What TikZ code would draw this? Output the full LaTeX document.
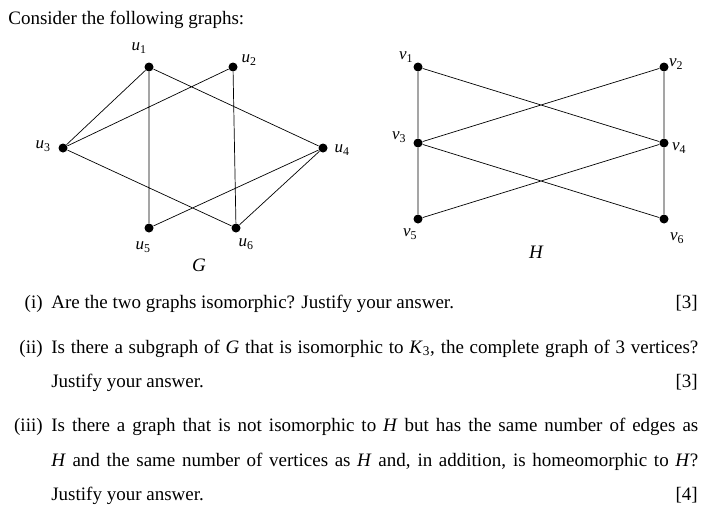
\documentclass[tikz,border=0pt]{standalone}
\usepackage{fontspec}
\setmainfont{Liberation Serif}
\newcommand{\sbs}[1]{\textsubscript{\upshape #1}}
\begin{document}
\begin{tikzpicture}[x=1pt,y=-1pt,line width=0.7pt,
  vtx/.style={circle,fill=black,inner sep=0pt,minimum size=9pt},
  lab/.style={font=\fontsize{17}{17}\selectfont\itshape,inner sep=0pt},
  txt/.style={font=\fontsize{19}{22}\selectfont,inner sep=0pt,anchor=base west},
  rt/.style={font=\fontsize{19}{22}\selectfont,inner sep=0pt,anchor=base east}]
\useasboundingbox (0,0) rectangle (708,522);
\node[txt] (t0) at (8,24) {Consider the following graphs:};
% G
\node[vtx] (u1) at (149,67) {};
\node[vtx] (u2) at (233,67) {};
\node[vtx] (u3) at (63,148) {};
\node[vtx] (u4) at (323,148) {};
\node[vtx] (u5) at (149,228) {};
\node[vtx] (u6) at (236,228) {};
\draw (u1)--(u5) (u2)--(u6) (u3)--(u1) (u3)--(u2) (u3)--(u6) (u4)--(u1) (u4)--(u5) (u4)--(u6);
\node[lab] (lu1) at (139,48) {u\sbs{1}};
\node[lab] (lu2) at (249,60) {u\sbs{2}};
\node[lab] (lu3) at (43,146) {u\sbs{3}};
\node[lab] (lu4) at (342,150) {u\sbs{4}};
\node[lab] (lu5) at (143,247) {u\sbs{5}};
\node[lab] (lu6) at (246,244) {u\sbs{6}};
\node[lab,font=\fontsize{19}{19}\selectfont\itshape] (lG) at (199,265) {G};
% H
\node[vtx] (v1) at (418,67) {};
\node[vtx] (v2) at (664,67) {};
\node[vtx] (v3) at (418,143) {};
\node[vtx] (v4) at (664,143) {};
\node[vtx] (v5) at (418,219) {};
\node[vtx] (v6) at (664,219) {};
\draw (v1)--(v3) (v3)--(v5) (v2)--(v4) (v4)--(v6) (v1)--(v4) (v2)--(v3) (v3)--(v6) (v5)--(v4);
\node[lab] (lv1) at (406,57) {v\sbs{1}};
\node[lab] (lv2) at (676,64) {v\sbs{2}};
\node[lab] (lv3) at (399,137) {v\sbs{3}};
\node[lab] (lv4) at (679,148) {v\sbs{4}};
\node[lab] (lv5) at (410,234) {v\sbs{5}};
\node[lab] (lv6) at (677,238) {v\sbs{6}};
\node[lab,font=\fontsize{19}{19}\selectfont\itshape] (lH) at (536,252) {H};
% questions
\node[rt] (q1n) at (43,308) {(i)};
\node[txt] (q1) at (51,308) {Are the two graphs isomorphic? Justify your answer.};
\node[rt] (q1m) at (698,308) {[3]};
\node[rt] (q2n) at (43,353) {(ii)};
\node[txt] (q2) at (51,353) {\makebox[647pt][s]{Is there a subgraph of \textit{G} that is isomorphic to \textit{K}\sbs{3}, the complete graph of 3 vertices?}};
\node[txt] (q2b) at (51,387) {Justify your answer.};
\node[rt] (q2m) at (698,387) {[3]};
\node[rt] (q3n) at (43,431) {(iii)};
\node[txt] (q3) at (51,431) {\makebox[647pt][s]{Is there a graph that is not isomorphic to \textit{H} but has the same number of edges as}};
\node[txt] (q3b) at (51,466) {\makebox[647pt][s]{\textit{H} and the same number of vertices as \textit{H} and, in addition, is homeomorphic to \textit{H}?}};
\node[txt] (q3c) at (51,500) {Justify your answer.};
\node[rt] (q3m) at (698,500) {[4]};
\end{tikzpicture}
\end{document}
